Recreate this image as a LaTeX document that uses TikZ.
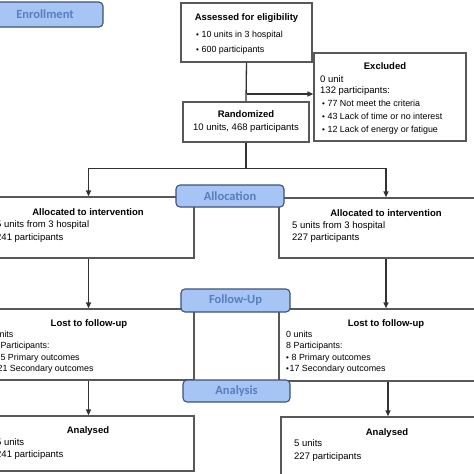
\documentclass[tikz,border=0pt]{standalone}
\usepackage{fontspec}
\setmainfont{Liberation Sans}
\newfontfamily\lblfont{Carlito}
\usetikzlibrary{arrows.meta,calc}
\definecolor{lblfill}{RGB}{166,196,244}
\definecolor{lbltext}{RGB}{86,126,192}
\definecolor{lblborder}{RGB}{62,82,120}
\definecolor{boxgray}{RGB}{88,88,88}
\definecolor{conngray}{RGB}{50,50,50}
\newcommand\mybul{{\fontsize{8}{8}\selectfont\textbullet}\hspace{2.6pt}}
\newcommand\mybulx{{\fontsize{8}{8}\selectfont\textbullet}\hspace{0.6pt}}
\begin{document}
\begin{tikzpicture}[x=1pt,y=-1pt,
  box/.style={draw=boxgray,line width=1.3pt,fill=white,inner sep=0pt},
  lbl/.style={draw=lblborder,line width=1.1pt,fill=lblfill,rounded corners=4pt,inner sep=0pt,
    text=lbltext,font=\lblfont\bfseries\fontsize{12.5}{14}\selectfont},
  ttl/.style={inner sep=0pt,anchor=base,font=\bfseries\fontsize{9.5}{11}\selectfont},
  txt/.style={inner sep=0pt,anchor=base west,font=\fontsize{9.5}{11}\selectfont},
  itm/.style={inner sep=0pt,anchor=base west,font=\fontsize{8.9}{11}\selectfont},
  ctxt/.style={inner sep=0pt,anchor=base,font=\fontsize{9.5}{11}\selectfont},
  conn/.style={draw=conngray,line width=1.3pt},
  arr/.style={conn,-{Triangle[length=6pt,width=5pt]}}]
\useasboundingbox (0,0) rectangle (474,474);

% boxes
\node[box,minimum width=131,minimum height=59] (assess) at (246.5,32.5) {};
\node[box,minimum width=152,minimum height=88] (excl) at (390,97) {};
\node[box,minimum width=126,minimum height=40] (rand) at (246,122) {};
\node[box,minimum width=211,minimum height=61] (allocL) at (88.5,227.5) {};
\node[box,minimum width=214,minimum height=60] (allocR) at (386,228) {};
\node[box,minimum width=211,minimum height=71] (lostL) at (88.5,344.5) {};
\node[box,minimum width=214,minimum height=72] (lostR) at (386,345) {};
\node[box,minimum width=211,minimum height=55] (anaL) at (88.5,443.5) {};
\node[box,minimum width=214,minimum height=73] (anaR) at (388,453.5) {};

% texts
\node[ttl] (assessT) at (246.5,20) {Assessed for eligibility};
\node[itm] (assess1) at (196,37) {\mybul 10 units in 3 hospital};
\node[itm] (assess2) at (196,52) {\mybul 600 participants};

\node[ttl] (exclT) at (385,69.5) {Excluded};
\node[txt] (excl1) at (320,82) {0 unit};
\node[txt] (excl2) at (320,93.5) {132 participants:};
\node[itm] (excl3) at (322,106) {\mybul 77 Not meet the criteria};
\node[itm] (excl4) at (322,119.5) {\mybul 43 Lack of time or no interest};
\node[itm] (excl5) at (322,132) {\mybul 12 Lack of energy or fatigue};

\node[ttl] (randT) at (246,117.5) {Randomized};
\node[ctxt] (rand1) at (246,130.5) {10 units, 468 participants};

\node[ttl] (allocLT) at (88,215.5) {Allocated to intervention};
\node[txt] (allocL1) at (-4,227.5) {5 units from 3 hospital};
\node[txt] (allocL2) at (-4,240) {241 participants};

\node[ttl] (allocRT) at (386,216) {Allocated to intervention};
\node[txt] (allocR1) at (292,228) {5 units from 3 hospital};
\node[txt] (allocR2) at (292,240.5) {227 participants};

\node[ttl] (lostLT) at (89,326) {Lost to follow-up};
\node[itm] (lostL1) at (-13,337) {0 units};
\node[itm] (lostL2) at (-12,348) {16 Participants:};
\node[itm] (lostL3) at (-10,360) {\mybul 15 Primary outcomes};
\node[itm] (lostL4) at (-8,371.5) {\mybul 21 Secondary outcomes};

\node[ttl] (lostRT) at (386,326) {Lost to follow-up};
\node[itm] (lostR1) at (286,337) {0 units};
\node[itm] (lostR2) at (286,348) {8 Participants:};
\node[itm] (lostR3) at (286,360) {\mybul 8 Primary outcomes};
\node[itm] (lostR4) at (286,371.5) {\mybulx 17 Secondary outcomes};

\node[ttl] (anaLT) at (88,433) {Analysed};
\node[txt] (anaL1) at (-4,445) {5 units};
\node[txt] (anaL2) at (-4,457.5) {241 participants};

\node[ttl] (anaRT) at (387,435) {Analysed};
\node[txt] (anaR1) at (294,446.5) {5 units};
\node[txt] (anaR2) at (294,459) {227 participants};

% connectors
\coordinate (br) at (247,94);
\coordinate (split) at ($(rand.south)+(0,26)$);
\draw[conn] (assess.south) -- (rand.north);
\draw[arr] (br) -- (br -| excl.west);
\draw[conn] (rand.south) -- (split);
\draw[arr] (split) -| (allocL.north);
\draw[arr] (split) -| (allocR.north);
\draw[arr] (allocL.south) -- (lostL.north);
\draw[arr] (allocR.south) -- (lostR.north);
\draw[arr] (lostL.south) -- (anaL.north);
\draw[arr] (lostR.south -| anaR.north) -- (anaR.north);

% phase labels
\node[lbl,minimum width=116,minimum height=25] (enr) at (45,14.5) {Enrollment};
\node[lbl,minimum width=108,minimum height=22] (allocLbl) at (230,196) {Allocation};
\node[lbl,minimum width=109,minimum height=23] (follow) at (235.5,300.5) {Follow-Up};
\node[lbl,minimum width=107,minimum height=22] (analysis) at (236.5,391) {Analysis};
\end{tikzpicture}
\end{document}
